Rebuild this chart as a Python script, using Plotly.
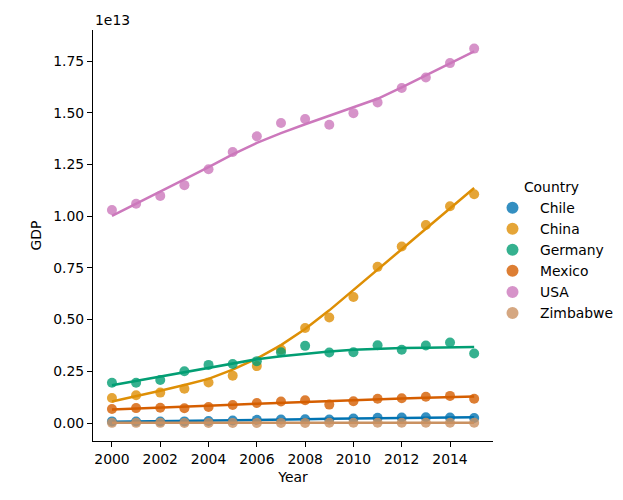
import numpy as np
import plotly.graph_objects as go

years = list(range(2000, 2016))
countries = ["Chile", "China", "Germany", "Mexico", "USA", "Zimbabwe"]
colors = ["#0173b2", "#de8f05", "#029e73", "#d55e00", "#cc78bc", "#ca9161"]

chile = [0.078e12, 0.071e12, 0.070e12, 0.077e12, 0.100e12, 0.123e12, 0.154e12, 0.173e12,
         0.180e12, 0.172e12, 0.218e12, 0.252e12, 0.267e12, 0.278e12, 0.261e12, 0.243e12]
china = [1.21e12, 1.34e12, 1.47e12, 1.66e12, 1.96e12, 2.29e12, 2.75e12, 3.55e12,
         4.59e12, 5.10e12, 6.09e12, 7.55e12, 8.53e12, 9.57e12, 10.48e12, 11.06e12]
germany = [1.95e12, 1.95e12, 2.08e12, 2.50e12, 2.81e12, 2.85e12, 2.99e12, 3.42e12,
           3.73e12, 3.41e12, 3.42e12, 3.76e12, 3.54e12, 3.75e12, 3.89e12, 3.36e12]
mexico = [0.68e12, 0.72e12, 0.74e12, 0.71e12, 0.77e12, 0.87e12, 0.97e12, 1.04e12,
          1.10e12, 0.89e12, 1.05e12, 1.17e12, 1.20e12, 1.27e12, 1.31e12, 1.17e12]
usa = [10.3e12, 10.6e12, 10.98e12, 11.5e12, 12.27e12, 13.1e12, 13.86e12, 14.5e12,
       14.7e12, 14.42e12, 14.98e12, 15.5e12, 16.2e12, 16.7e12, 17.4e12, 18.1e12]
zimbabwe = [6.7e9, 6.8e9, 6.3e9, 5.7e9, 5.8e9, 5.8e9, 5.4e9, 5.3e9,
            4.4e9, 8.2e9, 10.1e9, 12.1e9, 14.2e9, 15.5e9, 15.9e9, 16.3e9]
series = [chile, china, germany, mexico, usa, zimbabwe]

ytick_vals = [0, 0.25e13, 0.5e13, 0.75e13, 1.0e13, 1.25e13, 1.5e13, 1.75e13]
ytick_text = ["0.00", "0.25", "0.50", "0.75", "1.00", "1.25", "1.50", "1.75"]
xtick_vals = [2000, 2002, 2004, 2006, 2008, 2010, 2012, 2014]


def lowess(x, y, frac=2.0 / 3.0, it=3):
    x = np.asarray(x, float)
    y = np.asarray(y, float)
    n = len(x)
    k = int(frac * n + 1e-10)
    rw = np.ones(n)
    fit = np.zeros(n)
    for _ in range(it + 1):
        for i in range(n):
            d = np.abs(x - x[i])
            idx = np.argsort(d)[:k]
            h = d[idx].max()
            w = np.zeros(n)
            u = d[idx] / h
            w[idx] = np.clip(1 - u ** 3, 0, None) ** 3
            w = w * rw
            sw = w.sum()
            xm = (w * x).sum() / sw
            ym = (w * y).sum() / sw
            sxx = (w * (x - xm) ** 2).sum()
            if sxx > 0:
                b = (w * (x - xm) * (y - ym)).sum() / sxx
            else:
                b = 0.0
            fit[i] = ym + b * (x[i] - xm)
        res = y - fit
        s = np.median(np.abs(res))
        if s == 0:
            break
        r = np.clip(res / (6 * s), -1, 1)
        rw = (1 - r ** 2) ** 2
    return fit


FS = 13.9
fig = go.Figure()
for name, vals, col in zip(countries, series, colors):
    fig.add_trace(go.Scatter(
        x=years, y=vals, mode="markers", name=name, legendgroup=name,
        marker=dict(color=col, size=10, opacity=0.8, line=dict(width=0)),
    ))
    fig.add_trace(go.Scatter(
        x=years, y=lowess(years, vals), mode="lines", legendgroup=name,
        showlegend=False, line=dict(color=col, width=2.5),
    ))

fig.update_layout(
    width=615, height=492,
    margin=dict(l=85, r=130, t=22, b=59, autoexpand=False),
    plot_bgcolor="white", paper_bgcolor="white",
    font=dict(family="DejaVu Sans", size=FS, color="black"),
    legend=dict(
        title=dict(text="Country", side="top center", font=dict(size=FS)),
        xref="container", yref="container",
        x=0.7756, xanchor="left", y=0.505, yanchor="middle",
        font=dict(size=FS), itemsizing="constant", itemwidth=45,
        tracegroupgap=0,
    ),
    xaxis=dict(
        range=[1999.215, 2015.78], tickvals=xtick_vals,
        showline=True, linecolor="black", linewidth=1,
        ticks="outside", ticklen=5, tickcolor="black",
        showgrid=False, zeroline=False, tickfont=dict(size=FS),
        title=dict(text="Year", standoff=6, font=dict(size=FS)),
    ),
    yaxis=dict(
        range=[-0.087e13, 1.90e13], tickvals=ytick_vals, ticktext=ytick_text,
        showline=True, linecolor="black", linewidth=1,
        ticks="outside", ticklen=5, tickcolor="black",
        showgrid=False, zeroline=False, tickfont=dict(size=FS),
        title=dict(text="GDP", standoff=8, font=dict(size=FS)),
    ),
    annotations=[dict(
        text="1e13", xref="paper", yref="paper", x=0, y=1,
        xanchor="left", yanchor="bottom", showarrow=False,
        font=dict(size=FS), yshift=0,
    )],
)

fig.write_html("out.html")
